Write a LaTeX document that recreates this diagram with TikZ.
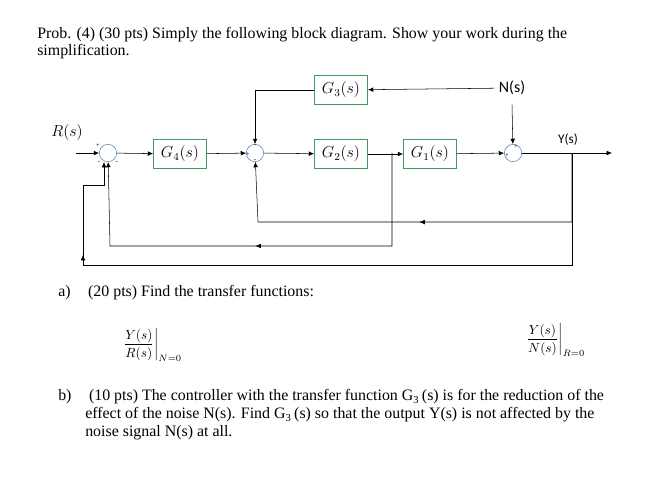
\documentclass[tikz,border=0pt]{standalone}
\usepackage{fontspec}
\setmainfont{Liberation Serif}
\newfontfamily\carl{Carlito}
\usepackage{amsmath}
\usetikzlibrary{arrows.meta, decorations.markings}
\definecolor{boxgreen}{HTML}{3C9A5C}
\definecolor{sumblue}{HTML}{4A7FB5}
\tikzstyle{block} = [rectangle, draw=boxgreen, thick, minimum width=1.4cm, minimum height=0.75cm, inner sep=1pt, font=\large]
\tikzstyle{sum} = [circle, draw=sumblue, minimum size=0.46cm, inner sep=0pt]
\tikzstyle{arrow} = [->, >={Latex[length=4pt,width=3.5pt]}]
\tikzstyle{midarrow} = [postaction={decorate}, decoration={markings, mark=at position 0.5 with {\arrow{Latex[length=4pt,width=3.5pt]}}}]
\tikzstyle{sign} = [font=\tiny, inner sep=0pt]
\tikzstyle{txt} = [anchor=west, inner sep=0pt, font=\fontsize{12}{14}\selectfont]
\begin{document}
\begin{tikzpicture}[x=0.0265cm, y=-0.0265cm]
  \useasboundingbox (0,0) rectangle (655,484);

  % header
  \node[txt] (head1) at (37,35) {Prob. (4) (30 pts) Simply the following block diagram. Show your work during the};
  \node[txt] (head2) at (37,52) {simplification.};

  % blocks and summing points
  \node (sum1) [sum] at (108,153) {};
  \node (g4) [block] at (180,154) {$G_4(s)$};
  \node (sum2) [sum] at (255,153) {};
  \node (g2) [block] at (341,154) {$G_2(s)$};
  \node (g1) [block] at (430,154) {$G_1(s)$};
  \node (sum3) [sum] at (513,153) {};
  \node (g3) [block] at (341,90) {$G_3(s)$};

  \node (in) [inner sep=0pt] at (75,153) {};
  \node (rlab) at (67,133) {\large $R(s)$};
  \node (nlab) at (512,88) {\carl\large N(s)};
  \node (ylab) at (568,140) {\carl Y(s)};
  \coordinate (out) at (612,153);
  \coordinate (bp1) at (392,153);
  \coordinate (bp2) at (572,153);

  % signs
  \node[sign] at (98,146) {+};
  \node[sign] at (99,163) {-};
  \node[sign] at (117,163) {-};
  \node[sign] at (255,146) {-};
  \node[sign] at (248,155) {+};
  \node[sign] at (255,161) {-};
  \node[sign] at (516,147) {+};
  \node[sign] at (507,156) {+};

  % forward path
  \draw [arrow] (in) -- (sum1);
  \draw [arrow] (sum1) -- (g4);
  \draw [arrow] (g4) -- (sum2);
  \draw [arrow] (sum2) -- (g2);
  \draw [arrow] (g2) -- (g1);
  \draw [arrow] (g1) -- (sum3);
  \draw [arrow] (sum3) -- (out);

  % noise path
  \draw [arrow] (nlab) -- (g3);
  \draw [arrow] (nlab.south) ++(0,5) -- (sum3);
  \draw [arrow] (g3) -| (sum2);

  % feedback loops
  \draw [arrow, midarrow] (bp2) |- (258,222) -- (sum2);
  \draw [arrow, midarrow] (bp1) |- (110,246) -- (sum1);
  \draw [arrow] (bp2) |- (83,265) -- (83,185) -| (104,162);
  \draw [-{Latex[length=4pt,width=3.5pt]}] (83,265) -- (83,255);

  % questions
  \node[txt] (qa) at (58,293) {a)\hspace{1.1em}(20 pts) Find the transfer functions:};
  \node (fa) at (152,345) {$\left.\dfrac{Y(s)}{R(s)}\right|_{N=0}$};
  \node (fb) at (555,340) {$\left.\dfrac{Y(s)}{N(s)}\right|_{R=0}$};
  \node[txt] (qb1) at (58,397) {b)\hspace{1.1em}(10 pts) The controller with the transfer function G\textsubscript{3}\,(s) is for the reduction of the};
  \node[txt] (qb2) at (85,415) {effect of the noise N(s). Find G\textsubscript{3}\,(s) so that the output Y(s) is not affected by the};
  \node[txt] (qb3) at (85,433) {noise signal N(s) at all.};
\end{tikzpicture}
\end{document}
